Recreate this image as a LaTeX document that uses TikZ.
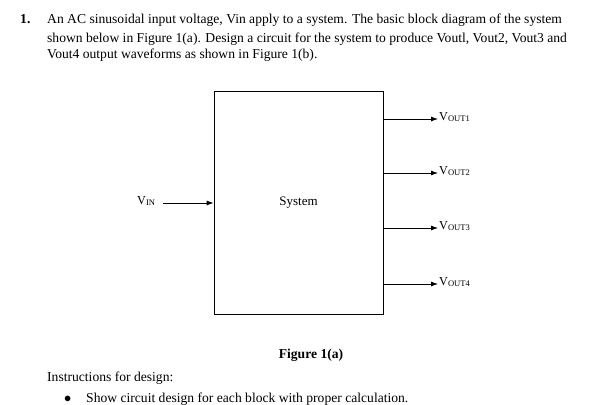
\documentclass[tikz,border=0pt]{standalone}
\usepackage{fontspec}
\setmainfont{Liberation Serif}
\usetikzlibrary{arrows.meta}
\begin{document}
\begin{tikzpicture}[x=1pt,y=-1pt,
  txt/.style={anchor=base west,inner sep=0pt,font=\fontsize{13.6}{15}\selectfont},
  lab/.style={anchor=west,inner sep=0pt,font=\fontsize{12.2}{14}\selectfont},
  arr/.style={-{Latex[length=7pt,width=5pt]},line width=0.8pt}]
\useasboundingbox (0,0) rectangle (601,404);
\node[txt,font=\bfseries\fontsize{13.6}{15}\selectfont] (n1) at (20,24) {1.};
\node[txt] (l1) at (47,24) {An AC sinusoidal input voltage, Vin apply to a system. The basic block diagram of the system};
\node[txt] (l2) at (47,42) {shown below in Figure 1(a). Design a circuit for the system to produce Voutl, Vout2, Vout3 and};
\node[txt] (l3) at (47,59) {Vout4 output waveforms as shown in Figure 1(b).};
\node[draw,line width=0.8pt,minimum width=169pt,minimum height=223pt,inner sep=0pt,font=\fontsize{13}{15}\selectfont] (sys) at (298.5,202.5) {System};
\node[lab] (vin) at (137,201) {V\textsubscript{IN}};
\draw[arr] (163,203) coordinate (vs) -- (vs -| sys.west);
\foreach \y/\n in {119/1,173/2,228/3,284/4}{
  \node[lab] (o\n) at (439,\y-2) {V\textsubscript{OUT\n}};
  \draw[arr] (sys.east |- 0,\y) -- (438,\y);
}
\node[txt,font=\bfseries\fontsize{13.6}{15}\selectfont,anchor=base] (fig) at (311,358) {Figure 1(a)};
\node[txt] (ins) at (47,381) {Instructions for design:};
\node[txt] (bul) at (64,402) {$\bullet$};
\node[txt] (b1) at (86,402) {Show circuit design for each block with proper calculation.};
\end{tikzpicture}
\end{document}
